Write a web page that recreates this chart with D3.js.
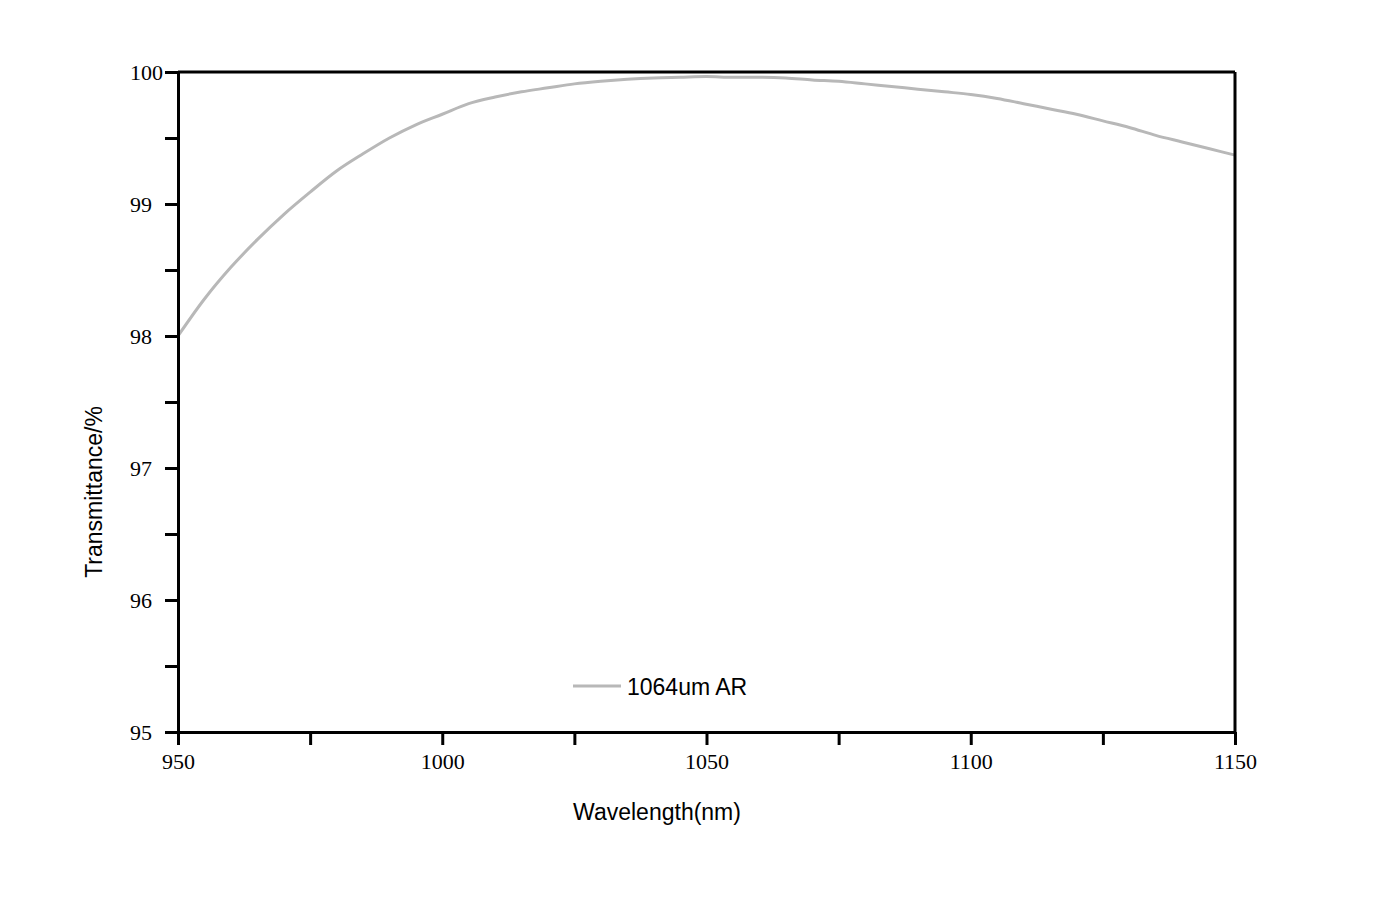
<!DOCTYPE html>
<html>
<head>
<meta charset="utf-8">
<script src="https://cdn.jsdelivr.net/npm/d3@7"></script>
<style>
  html, body { margin: 0; padding: 0; background: #fff; }
  svg { display: block; }
</style>
</head>
<body>
<svg id="chart" width="1391" height="905"></svg>
<script>
// ---- Data ----
const wavelengths = [950, 955, 960, 965, 970, 975, 980, 985, 990, 995,
  1000, 1005, 1010, 1015, 1020, 1025, 1030, 1035, 1040, 1045,
  1050, 1055, 1060, 1065, 1070, 1075, 1080, 1085, 1090, 1095,
  1100, 1105, 1110, 1115, 1120, 1125, 1130, 1135, 1140, 1145, 1150];
const transmittance = [98.00, 98.28, 98.52, 98.73, 98.92, 99.09, 99.25, 99.38, 99.50, 99.60,
  99.68, 99.76, 99.81, 99.85, 99.88, 99.91, 99.93, 99.945, 99.955, 99.96,
  99.965, 99.96, 99.96, 99.955, 99.94, 99.93, 99.91, 99.89, 99.87, 99.85,
  99.83, 99.80, 99.76, 99.72, 99.68, 99.63, 99.58, 99.52, 99.47, 99.42, 99.37];
const seriesName = "1064um AR";
const xTicks = [950, 975, 1000, 1025, 1050, 1075, 1100, 1125, 1150];
const xLabelTicks = [950, 1000, 1050, 1100, 1150];
const yTicks = [95, 95.5, 96, 96.5, 97, 97.5, 98, 98.5, 99, 99.5, 100];
const yLabelTicks = [95, 96, 97, 98, 99, 100];
const xTitle = "Wavelength(nm)";
const yTitle = "Transmittance/%";

// ---- Layout ----
const plotLeft = 178, plotRight = 1235, plotTop = 72, plotBottom = 732;
const svg = d3.select("#chart");

const x = d3.scaleLinear().domain([950, 1150]).range([plotLeft, plotRight]);
const y = d3.scaleLinear().domain([95, 100]).range([plotBottom, plotTop]);

const serif = "'Liberation Serif', 'Times New Roman', serif";
const sans = "'Liberation Sans', Arial, sans-serif";

// Curve
const data = wavelengths.map((w, i) => ({ w, t: transmittance[i] }));
const line = d3.line().x(d => x(d.w)).y(d => y(d.t)).curve(d3.curveMonotoneX);
svg.append("path")
  .datum(data)
  .attr("d", line)
  .attr("fill", "none")
  .attr("stroke", "#b8b8b8")
  .attr("stroke-width", 3);

// Frame (top & right)
svg.append("line").attr("x1", plotLeft).attr("x2", plotRight).attr("y1", plotTop).attr("y2", plotTop)
  .attr("stroke", "#000").attr("stroke-width", 3);
svg.append("line").attr("x1", plotRight).attr("x2", plotRight).attr("y1", plotTop).attr("y2", plotBottom)
  .attr("stroke", "#000").attr("stroke-width", 3);

// X axis
const xAxis = d3.axisBottom(x).tickValues(xTicks).tickSize(13).tickSizeOuter(0)
  .tickFormat(d => xLabelTicks.includes(d) ? d3.format("d")(d) : "");
const gx = svg.append("g").attr("transform", `translate(0,${plotBottom})`).call(xAxis);
gx.select(".domain").attr("stroke", "#000").attr("stroke-width", 3);
gx.selectAll(".tick line").attr("stroke", "#000").attr("stroke-width", 3);
gx.selectAll(".tick text")
  .attr("y", 0).attr("dy", 0)
  .attr("transform", "translate(0,37)")
  .attr("font-family", serif).attr("font-size", 22).attr("fill", "#000");

// Y axis
const yAxis = d3.axisLeft(y).tickValues(yTicks).tickSize(13).tickSizeOuter(0)
  .tickFormat(d => yLabelTicks.includes(d) ? d3.format("d")(d) : "");
const gy = svg.append("g").attr("transform", `translate(${plotLeft},0)`).call(yAxis);
gy.select(".domain").attr("stroke", "#000").attr("stroke-width", 3);
gy.selectAll(".tick line").attr("stroke", "#000").attr("stroke-width", 3);
gy.selectAll(".tick text")
  .attr("x", 130 - plotLeft).attr("dy", "0.34em")
  .attr("text-anchor", "start")
  .attr("font-family", serif).attr("font-size", 22).attr("fill", "#000");

// Axis titles
svg.append("text")
  .attr("x", 657).attr("y", 820)
  .attr("text-anchor", "middle")
  .attr("font-family", sans).attr("font-size", 23).attr("fill", "#000")
  .text(xTitle);
svg.append("text")
  .attr("transform", `translate(102,492) rotate(-90)`)
  .attr("text-anchor", "middle")
  .attr("font-family", sans).attr("font-size", 23).attr("fill", "#000")
  .text(yTitle);

// Legend
svg.append("line").attr("x1", 573).attr("x2", 621).attr("y1", 686).attr("y2", 686)
  .attr("stroke", "#b8b8b8").attr("stroke-width", 3);
svg.append("text")
  .attr("x", 627).attr("y", 695)
  .attr("font-family", sans).attr("font-size", 23).attr("fill", "#000")
  .text(seriesName);
</script>
</body>
</html>
